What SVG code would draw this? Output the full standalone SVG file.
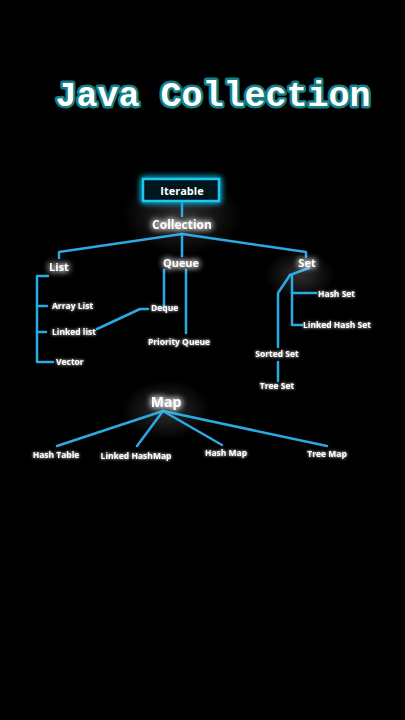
<svg xmlns="http://www.w3.org/2000/svg" width="405" height="720" viewBox="0 0 405 720">
<defs>
<filter id="glow" x="-50%" y="-80%" width="200%" height="260%">
<feGaussianBlur in="SourceGraphic" stdDeviation="3" result="b"/>
<feMerge><feMergeNode in="b"/><feMergeNode in="b"/><feMergeNode in="SourceGraphic"/></feMerge>
</filter>
<filter id="softglow" x="-30%" y="-80%" width="160%" height="260%">
<feGaussianBlur in="SourceGraphic" stdDeviation="1.5" result="b"/>
<feMerge><feMergeNode in="b"/><feMergeNode in="SourceGraphic"/></feMerge>
</filter>
<filter id="boxglow" x="-40%" y="-100%" width="180%" height="300%">
<feGaussianBlur in="SourceGraphic" stdDeviation="3" result="b"/>
<feMerge><feMergeNode in="b"/><feMergeNode in="b"/><feMergeNode in="SourceGraphic"/></feMerge>
</filter>
<radialGradient id="halo" cx="0.5" cy="0.5" r="0.5">
<stop offset="0" stop-color="#ffffff" stop-opacity="0.18"/>
<stop offset="1" stop-color="#ffffff" stop-opacity="0"/>
</radialGradient>
<style>
.title{font-family:"Liberation Mono","Courier New",monospace;font-weight:bold;font-size:35px;fill:#ffffff;stroke:#147f86;stroke-width:5px;paint-order:stroke;stroke-linejoin:round;text-anchor:middle}
.big{font-family:"Open Sans","Noto Sans",sans-serif;font-weight:700;fill:#ffffff;text-anchor:middle;filter:url(#glow)}
.small{font-family:"Open Sans","Noto Sans",sans-serif;font-weight:700;font-size:8.5px;fill:#ffffff;filter:url(#softglow)}
.mid{text-anchor:middle}
.conn{fill:none;stroke:#2aa9e2;stroke-width:2.5;stroke-linecap:round;stroke-linejoin:round}
</style>
</defs>
<rect width="405" height="720" fill="#000000"/>
<ellipse cx="182" cy="215" rx="60" ry="40" fill="url(#halo)"/>
<ellipse cx="166" cy="410" rx="45" ry="30" fill="url(#halo)"/>
<ellipse cx="300" cy="275" rx="35" ry="25" fill="url(#halo)"/>
<text class="title" x="213" y="106">Java Collection</text>
<g id="connectors">
<path class="conn" d="M182 202 V216"/>
<path class="conn" d="M182 234 L59 252 V258"/>
<path class="conn" d="M182 234 V256"/>
<path class="conn" d="M182 234 L306 252 V257"/>
<path class="conn" d="M48 276 H37 V362 H53"/>
<path class="conn" d="M37 306 H47"/>
<path class="conn" d="M37 332 H46"/>
<path class="conn" d="M97 329 L140 309 H148"/>
<path class="conn" d="M164 270 V307"/>
<path class="conn" d="M186 270 V333"/>
<path class="conn" d="M309 268 L290 275 L278 293 V347"/>
<path class="conn" d="M278 362 V381"/>
<path class="conn" d="M290 275 H292 V325 H302"/>
<path class="conn" d="M292 293 H316"/>
<path class="conn" d="M163 411 L57 446"/>
<path class="conn" d="M163 411 L137 446"/>
<path class="conn" d="M163 411 L222 445"/>
<path class="conn" d="M163 411 L327 446"/>
</g>
<g id="iterable">
<rect x="143" y="179" width="76" height="22" fill="#05141a" stroke="#1ec8f2" stroke-width="2.5" filter="url(#boxglow)"/>
<text class="big" x="182" y="194.5" font-size="11" style="filter:none">Iterable</text>
</g>
<g id="collection"><text class="big" x="182" y="229" font-size="12">Collection</text></g>
<g id="list"><text class="big" x="59" y="271" font-size="11">List</text></g>
<g id="queue"><text class="big" x="181" y="267" font-size="11">Queue</text></g>
<g id="set"><text class="big" x="307" y="267" font-size="11">Set</text></g>
<g id="arraylist"><text class="small" x="52" y="309">Array List</text></g>
<g id="linkedlist"><text class="small" x="52" y="335">Linked list</text></g>
<g id="vector"><text class="small" x="56" y="365">Vector</text></g>
<g id="deque"><text class="small" x="151" y="311">Deque</text></g>
<g id="priorityqueue"><text class="small mid" x="179" y="345">Priority Queue</text></g>
<g id="hashset"><text class="small" x="318" y="297">Hash Set</text></g>
<g id="linkedhashset"><text class="small" x="303" y="328">Linked Hash Set</text></g>
<g id="sortedset"><text class="small mid" x="277" y="357">Sorted Set</text></g>
<g id="treeset"><text class="small mid" x="277" y="389">Tree Set</text></g>
<g id="map"><text class="big" x="166" y="407" font-size="14">Map</text></g>
<g id="hashtable"><text class="small mid" x="56" y="458">Hash Table</text></g>
<g id="linkedhashmap"><text class="small mid" x="136" y="459">Linked HashMap</text></g>
<g id="hashmap"><text class="small mid" x="226" y="456">Hash Map</text></g>
<g id="treemap"><text class="small mid" x="327" y="457">Tree Map</text></g>
</svg>
